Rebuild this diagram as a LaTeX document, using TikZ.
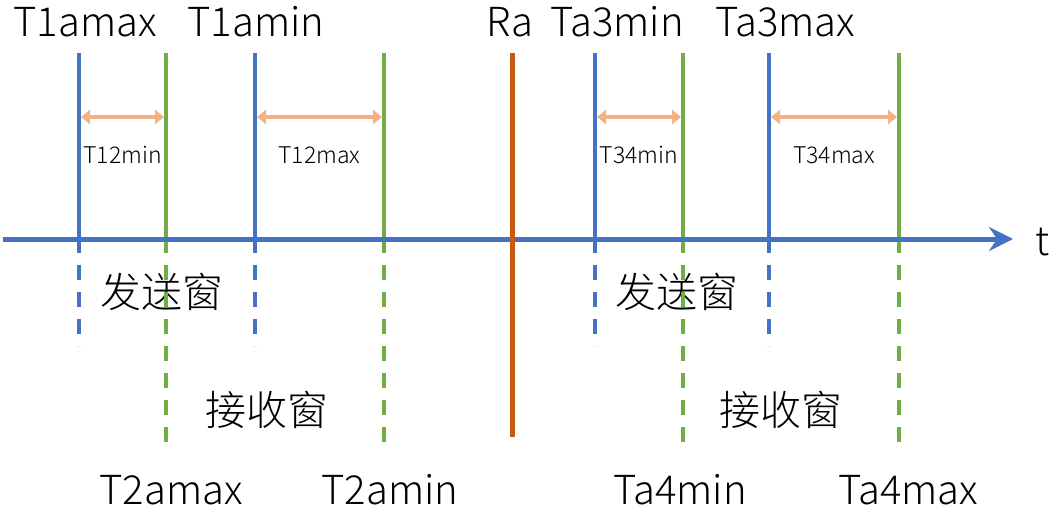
\documentclass[tikz,border=0pt]{standalone}
\usepackage{fontspec}
\setmainfont{Noto Sans CJK SC}[UprightFont=* Light]
\usetikzlibrary{positioning}
\usetikzlibrary{calc}
\usetikzlibrary{arrows.meta}
\definecolor{blueL}{RGB}{68,114,196}
\definecolor{greenL}{RGB}{112,173,71}
\definecolor{red}{RGB}{197,90,17}
\definecolor{spanC}{RGB}{244,177,131}
\tikzset{
  big/.style={font=\fontsize{40}{42}\selectfont, inner sep=0},
  cjk/.style={font=\fontsize{41}{43}\selectfont, inner sep=0},
  small/.style={font=\fontsize{23}{25}\selectfont, inner sep=0, text=black},
  span/.style={{Triangle[length=9pt,width=14pt]}-{Triangle[length=9pt,width=14pt]}, spanC, line width=3.5, shorten <=2pt, shorten >=2pt},
  dashline/.style={line width=4, dash pattern=on 15pt off 12pt},
}

\begin{document}
\begin{tikzpicture}[x=1pt,y=-1pt]
        \useasboundingbox (0,0) rectangle (1056,513);
        % nodes %
        \node[big] (t1amax) at (85,22) {T1amax};
        \node[big] (t1amin) at (256,22) {T1amin};
        \node[big] (ra) at (510,22) {Ra};
        \node[big] (ta3min) at (617,22) {Ta3min};
        \node[big] (ta3max) at (785,22) {Ta3max};
        \node[big] (t2amax) at (171,490) {T2amax};
        \node[big] (t2amin) at (390,490) {T2amin};
        \node[big] (ta4min) at (680,490) {Ta4min};
        \node[big] (ta4max) at (908,490) {Ta4max};
        \node[cjk] (send1) at (162,292) {发送窗};
        \node[cjk] (send2) at (677,292) {发送窗};
        \node[cjk] (recv1) at (267,410) {接收窗};
        \node[cjk] (recv2) at (781,410) {接收窗};
        \node[big] (t) at (1043,242) {t};
        \coordinate (o) at (3,239);
        \coordinate (tip) at (1013,239);
        \coordinate (mid) at (0,117);
        \coordinate (r) at (512,53);

        % edges %
        \foreach \n/\x/\c/\e in {b1/79/blueL/346, g1/166/greenL/452, b2/255/blueL/346, g2/384/greenL/452,
                                 b3/595/blueL/346, g3/683/greenL/452, b4/769/blueL/346, g4/899/greenL/452} {
          \coordinate (\n) at (\x,53);
          \draw[\c, line width=4] (\n) -- (\x,253);
          \draw[\c, dashline] (\x,265) -- (\x,\e);
        }
        \draw[blueL, line width=5, -{Stealth[length=24pt,width=24pt,inset=8pt]}] (o) -- (tip);
        \draw[red, line width=5] (r) -- ++(0,384);
        \draw[span] (b1 |- mid) -- node[small, yshift=-38pt] (l12min) {T12min} (g1 |- mid);
        \draw[span] (b2 |- mid) -- node[small, yshift=-38pt] (l12max) {T12max} (g2 |- mid);
        \draw[span] (b3 |- mid) -- node[small, yshift=-38pt] (l34min) {T34min} (g3 |- mid);
        \draw[span] (b4 |- mid) -- node[small, yshift=-38pt] (l34max) {T34max} (g4 |- mid);
\end{tikzpicture}
\end{document}
